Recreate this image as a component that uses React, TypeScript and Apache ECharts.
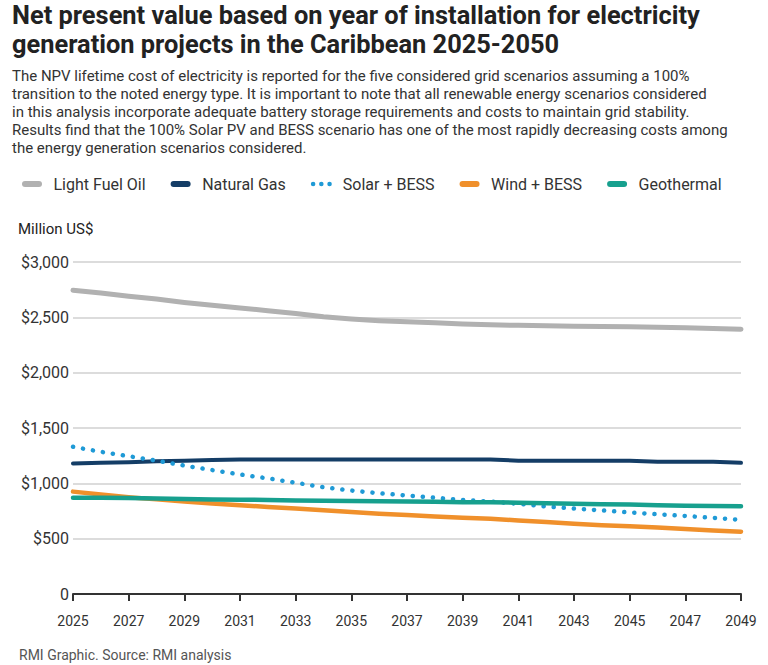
import React, { useEffect, useRef } from "react";
import * as echarts from "echarts";

// Installation years, 2025 through 2049
const years: string[] = [
  "2025", "2026", "2027", "2028", "2029", "2030", "2031", "2032", "2033",
  "2034", "2035", "2036", "2037", "2038", "2039", "2040", "2041", "2042",
  "2043", "2044", "2045", "2046", "2047", "2048", "2049",
];

// NPV lifetime cost, million US$
const lightFuelOil: number[] = [
  2745, 2720, 2690, 2665, 2635, 2610, 2585, 2560, 2535, 2505, 2485, 2470,
  2460, 2450, 2440, 2432, 2428, 2425, 2420, 2417, 2415, 2410, 2405, 2400, 2393,
];
const naturalGas: number[] = [
  1180, 1185, 1190, 1200, 1205, 1210, 1215, 1215, 1215, 1215, 1215, 1215,
  1215, 1215, 1215, 1215, 1205, 1205, 1205, 1205, 1205, 1195, 1195, 1195, 1185,
];
const solarBess: number[] = [
  1330, 1285, 1245, 1205, 1160, 1120, 1080, 1045, 1005, 965, 935, 910,
  890, 870, 850, 835, 815, 790, 772, 755, 737, 720, 705, 688, 670,
];
const windBess: number[] = [
  925, 900, 875, 855, 835, 818, 803, 787, 772, 757, 740, 725,
  713, 700, 688, 680, 665, 650, 635, 622, 612, 600, 588, 573, 563,
];
const geothermal: number[] = [
  870, 870, 868, 862, 858, 855, 852, 850, 845, 843, 840, 838,
  835, 833, 830, 828, 825, 820, 815, 812, 808, 803, 798, 795, 793,
];

const seriesNames = ["Light Fuel Oil", "Natural Gas", "Solar + BESS", "Wind + BESS", "Geothermal"];
const seriesColors = ["#b1b1b1", "#143d66", "#1f9ad6", "#f0902b", "#17a08e"];

const yTicks = { min: 0, max: 3000, interval: 500 };

const titleText =
  "Net present value based on year of installation for electricity\ngeneration projects in the Caribbean 2025-2050";
const subtitleText = [
  "The NPV lifetime cost of electricity is reported for the five considered grid scenarios assuming a 100%",
  "transition to the noted energy type. It is important to note that all renewable energy scenarios considered",
  "in this analysis incorporate adequate battery storage requirements and costs to maintain grid stability.",
  "Results find that the 100% Solar PV and BESS scenario has one of the most rapidly decreasing costs among",
  "the energy generation scenarios considered.",
].join("\n");
const unitLabel = "Million US$";
const sourceText = "RMI Graphic. Source: RMI analysis";

const FONT = "Roboto, 'Noto Sans', sans-serif";

// legend glyphs
const dashIcon = "path://M3,0 L17,0 A3,3 0 0 1 17,6 L3,6 A3,3 0 0 1 3,0 Z";
const dotsIcon =
  "path://M0,3 A2.5,2.5 0 1 0 5,3 A2.5,2.5 0 1 0 0,3 Z M9,3 A2.5,2.5 0 1 0 14,3 A2.5,2.5 0 1 0 9,3 Z M18,3 A2.5,2.5 0 1 0 23,3 A2.5,2.5 0 1 0 18,3 Z";

export default function App() {
  const ref = useRef<HTMLDivElement>(null);

  useEffect(() => {
    if (!ref.current) return;
    const chart = echarts.init(ref.current, undefined, { renderer: "svg" });

    const values = [lightFuelOil, naturalGas, solarBess, windBess, geothermal];
    const widths = [5, 4, 4.5, 4.5, 4.5];

    chart.setOption({
      animation: false,
      backgroundColor: "#ffffff",
      textStyle: { fontFamily: FONT },
      title: [
        {
          text: titleText,
          left: 12,
          top: 0,
          padding: 0,
          textStyle: {
            fontFamily: FONT,
            fontSize: 25.4,
            fontWeight: "bold",
            color: "#222222",
            lineHeight: 29,
          },
        },
        {
          text: subtitleText,
          left: 12,
          top: 67,
          padding: 0,
          textStyle: {
            fontFamily: FONT,
            fontSize: 15,
            fontWeight: "normal",
            color: "#333333",
            lineHeight: 18,
          },
        },
        {
          text: unitLabel,
          left: 18,
          top: 221,
          padding: 0,
          textStyle: { fontFamily: FONT, fontSize: 15, fontWeight: "normal", color: "#222222" },
        },
        {
          text: sourceText,
          left: 19,
          top: 648,
          padding: 0,
          textStyle: { fontFamily: FONT, fontSize: 14, fontWeight: "normal", color: "#555555" },
        },
      ],
      legend: {
        left: 17,
        top: 171,
        itemGap: 25,
        itemWidth: 21,
        itemHeight: 6,
        textStyle: { fontFamily: FONT, fontSize: 16, color: "#333333", padding: [0, 0, 0, 6] },
        data: seriesNames.map((name, i) => ({
          name,
          icon: i === 2 ? dotsIcon : dashIcon,
          itemStyle: { color: seriesColors[i] },
        })),
      },
      grid: { left: 73, right: 27, top: 262, bottom: 71, containLabel: false },
      xAxis: {
        type: "category",
        data: years,
        boundaryGap: false,
        axisLine: { lineStyle: { color: "#333333", width: 2 } },
        axisTick: { interval: 1, length: 7, lineStyle: { color: "#333333", width: 2 } },
        axisLabel: { interval: 1, fontFamily: FONT, fontSize: 14, color: "#333333", margin: 20 },
        splitLine: { show: false },
      },
      yAxis: {
        type: "value",
        min: yTicks.min,
        max: yTicks.max,
        interval: yTicks.interval,
        axisLine: { show: false },
        axisTick: { show: false },
        axisLabel: {
          fontFamily: FONT,
          fontSize: 16,
          color: "#333333",
          margin: 4,
          formatter: (v: number) => (v === 0 ? "0" : "$" + v.toLocaleString("en-US")),
        },
        splitLine: { lineStyle: { color: "#d0d0d0", width: 1.5 } },
      },
      series: seriesNames.map((name, i) => ({
        name,
        type: "line",
        data: values[i],
        symbol: "none",
        color: seriesColors[i],
        lineStyle: {
          color: seriesColors[i],
          width: widths[i],
          cap: "round",
          join: "round",
          type: i === 2 ? [0.1, 10] : "solid",
        },
        emphasis: { disabled: true },
      })),
    });

    return () => chart.dispose();
  }, []);

  return (
    <div
      ref={ref}
      style={{ position: "absolute", left: 0, top: 0, width: 768, height: 665 }}
    />
  );
}
